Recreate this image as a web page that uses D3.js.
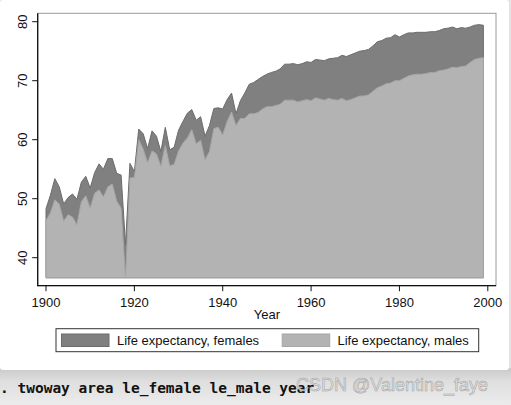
<!DOCTYPE html>
<html>
<head>
<meta charset="utf-8" />
<style>
  html, body {
    margin: 0;
    padding: 0;
    background: #fff;
  }
  svg text {
    font-family: "Liberation Sans", Arial, sans-serif;
  }
  .axis-label {
    font-size: 13px;
    fill: #111;
  }
  .female {
    fill: #808080;
    stroke: #6c6c6c;
    stroke-width: 1;
  }
  .male {
    fill: #b3b3b3;
    stroke: #a6a6a6;
    stroke-width: 1;
  }
</style>
</head>
<body>
<div id="vis"></div>
<script src="https://d3js.org/d3.v7.min.js"></script>
<script>
// ** DATA ** US life expectancy, 1900-1999
var years = d3.range(1900, 2000);

var leFemale = [
  48.3, 50.6, 53.4, 52.0, 49.1, 50.2, 50.8, 49.9, 52.8, 53.8,
  51.8, 54.4, 55.9, 55.0, 56.8, 56.8, 54.3, 54.0, 42.2, 56.0,
  54.6, 61.8, 61.0, 58.5, 61.5, 60.6, 58.0, 62.1, 58.3, 58.7,
  61.6, 63.1, 64.5, 65.1, 63.3, 63.9, 60.6, 62.4, 65.3, 65.4,
  65.2, 66.8, 67.9, 64.4, 66.6, 67.9, 69.4, 69.7, 70.2, 70.7,
  71.1, 71.4, 71.6, 72.0, 72.8, 72.8, 72.9, 72.7, 72.9, 73.2,
  73.1, 73.6, 73.5, 73.4, 73.7, 73.8, 73.9, 74.3, 74.1, 74.4,
  74.7, 75.0, 75.1, 75.3, 75.9, 76.6, 76.8, 77.2, 77.3, 77.8,
  77.4, 77.8, 78.1, 78.1, 78.2, 78.2, 78.2, 78.3, 78.3, 78.5,
  78.8, 78.9, 79.1, 78.8, 79.0, 78.9, 79.1, 79.4, 79.5, 79.4
];

var leMale = [
  46.3, 47.6, 49.8, 49.1, 46.2, 47.3, 46.9, 45.6, 49.5, 50.5,
  48.4, 50.9, 51.5, 50.3, 52.0, 52.5, 49.6, 48.4, 36.6, 53.5,
  53.6, 60.0, 58.4, 56.1, 58.1, 57.6, 55.5, 59.0, 55.6, 55.8,
  58.1, 59.4, 60.3, 61.7, 59.3, 59.9, 56.6, 58.0, 61.9, 62.1,
  60.8, 63.1, 64.7, 62.4, 63.6, 63.6, 64.4, 64.4, 64.6, 65.2,
  65.6, 65.6, 65.8, 66.0, 66.7, 66.7, 66.7, 66.4, 66.6, 66.8,
  66.6, 67.1, 66.9, 66.7, 67.0, 66.8, 66.7, 67.0, 66.6, 66.8,
  67.1, 67.4, 67.4, 67.6, 68.2, 68.8, 69.1, 69.5, 69.6, 70.0,
  70.0, 70.4, 70.8, 71.0, 71.1, 71.1, 71.2, 71.4, 71.4, 71.7,
  71.8, 72.0, 72.3, 72.2, 72.4, 72.5, 73.1, 73.6, 73.8, 73.9
];

var xTicks = [1900, 1920, 1940, 1960, 1980, 2000];
var yTicks = [40, 50, 60, 70, 80];
var seriesNames = ["Life expectancy, females", "Life expectancy, males"];
var xTitle = "Year";
var command = ". twoway area le_female le_male year";
var watermark = "CSDN @Valentine_faye";

(function() {
  var W = 511, H = 405;

  var svg = d3.select("#vis").append("svg")
    .attr("width", W).attr("height", H);

  // ** BACKGROUND ** window panel and the console strip below it
  var defs = svg.append("defs");
  var grad = defs.append("linearGradient")
    .attr("id", "strip").attr("x1", 0).attr("y1", 0).attr("x2", 0).attr("y2", 1);
  grad.append("stop").attr("offset", "0%").attr("stop-color", "#c9c9c9");
  grad.append("stop").attr("offset", "35%").attr("stop-color", "#dedede");
  grad.append("stop").attr("offset", "100%").attr("stop-color", "#ececec");

  svg.append("rect").attr("x", 0).attr("y", 0).attr("width", W).attr("height", H)
    .attr("fill", "#e4e4e4");
  svg.append("rect").attr("x", 0).attr("y", 368).attr("width", W).attr("height", H - 368)
    .attr("fill", "url(#strip)");
  svg.append("rect").attr("x", 0).attr("y", 0).attr("width", 509).attr("height", 370)
    .attr("rx", 3).attr("fill", "#fff");

  // ** SCALES **
  var x = d3.scaleLinear().domain([1900, 2000]).range([46, 487.8]);
  var y = d3.scaleLinear().domain([40, 80]).range([257.7, 21.7]);

  var plot = { left: 37.7, right: 496, top: 13.3, bottom: 285.7 };

  // plot region outline
  svg.append("rect")
    .attr("x", plot.left).attr("y", plot.top)
    .attr("width", plot.right - plot.left).attr("height", plot.bottom - plot.top)
    .attr("fill", "#fff").attr("stroke", "#9a9a9a").attr("stroke-width", 1);

  // ** AREAS ** base at the lowest value, as in Stata
  var base = d3.min(leMale.concat(leFemale));

  var areaOf = function(vals) {
    return d3.area()
      .x(function(d, i) { return x(years[i]); })
      .y0(y(base))
      .y1(function(d) { return y(d); })(vals);
  };

  svg.append("path").attr("class", "female").attr("d", areaOf(leFemale));
  svg.append("path").attr("class", "male").attr("d", areaOf(leMale));

  // ** AXES **
  svg.append("line")
    .attr("x1", plot.left).attr("x2", plot.left)
    .attr("y1", plot.top).attr("y2", plot.bottom + 0.5)
    .attr("stroke", "#111").attr("stroke-width", 1.3);
  svg.append("line")
    .attr("x1", plot.left).attr("x2", plot.right)
    .attr("y1", plot.bottom).attr("y2", plot.bottom)
    .attr("stroke", "#111").attr("stroke-width", 1.3);

  var xg = svg.append("g").selectAll("g").data(xTicks).enter().append("g")
    .attr("transform", function(d) { return "translate(" + x(d) + ",0)"; });
  xg.append("line").attr("y1", plot.bottom).attr("y2", plot.bottom + 5.5)
    .attr("stroke", "#111");
  xg.append("text").attr("class", "axis-label")
    .attr("y", 306.5).attr("text-anchor", "middle")
    .text(function(d) { return d; });

  var yg = svg.append("g").selectAll("g").data(yTicks).enter().append("g")
    .attr("transform", function(d) { return "translate(0," + y(d) + ")"; });
  yg.append("line").attr("x1", plot.left - 5.5).attr("x2", plot.left)
    .attr("stroke", "#111");
  yg.append("text").attr("class", "axis-label")
    .attr("transform", "translate(27,0) rotate(-90)")
    .attr("text-anchor", "middle")
    .text(function(d) { return d; });

  svg.append("text").attr("class", "axis-label")
    .attr("x", (plot.left + plot.right) / 2).attr("y", 319)
    .attr("text-anchor", "middle")
    .text(xTitle);

  // ** LEGEND **
  var legend = svg.append("g");
  legend.append("rect")
    .attr("x", 56).attr("y", 328.7).attr("width", 422.7).attr("height", 23)
    .attr("fill", "#fff").attr("stroke", "#333").attr("stroke-width", 1);

  var keys = [
    { name: seriesNames[0], cls: "female", sx: 61.5, tx: 117 },
    { name: seriesNames[1], cls: "male", sx: 282.2, tx: 337.5 }
  ];
  var items = legend.selectAll(".item").data(keys).enter().append("g").attr("class", "item");
  items.append("rect")
    .attr("class", function(d) { return d.cls; })
    .attr("x", function(d) { return d.sx; }).attr("y", 334)
    .attr("width", 47.5).attr("height", 12.5);
  items.append("text").attr("class", "axis-label")
    .attr("x", function(d) { return d.tx; }).attr("y", 345)
    .text(function(d) { return d.name; });

  // ** CONSOLE LINE + WATERMARK **
  svg.append("text")
    .attr("x", 0).attr("y", 392.5)
    .style("font-family", "'DejaVu Sans Mono', monospace")
    .style("font-weight", "bold")
    .style("font-size", "14.5px")
    .attr("fill", "#111")
    .text(command);

  svg.append("text")
    .attr("x", 296).attr("y", 390.5)
    .style("font-size", "18px")
    .attr("fill", "#e2e2e2").attr("fill-opacity", 0.85)
    .attr("stroke", "#9d9d9d").attr("stroke-width", 0.5)
    .text(watermark);
})();
</script>
</body>
</html>
